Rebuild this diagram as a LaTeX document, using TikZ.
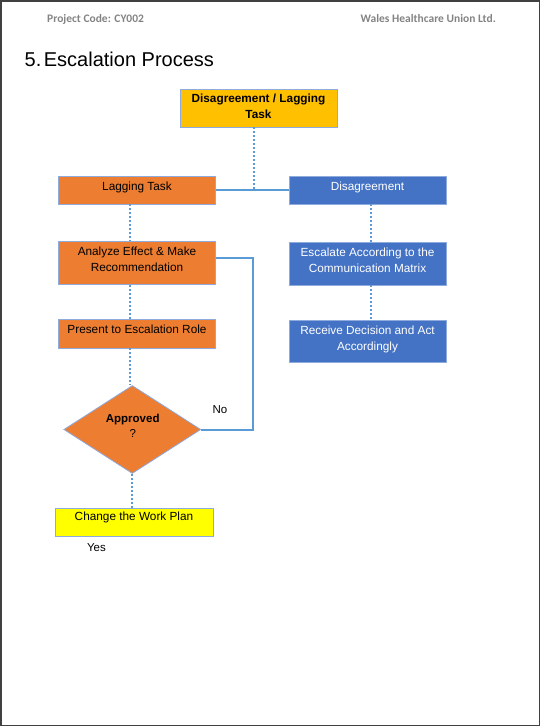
\documentclass[tikz,border=0pt]{standalone}
\usepackage{fontspec}
\setmainfont{Liberation Sans}
\newfontfamily\hdrfont{Carlito}
\usetikzlibrary{shapes.geometric}
\definecolor{orangeF}{HTML}{ED7D31}
\definecolor{blueF}{HTML}{4472C4}
\definecolor{goldF}{HTML}{FFC000}
\definecolor{yellowF}{HTML}{FFFF00}
\definecolor{lineC}{HTML}{5B9BD5}
\definecolor{edgeC}{HTML}{8FAADC}
\definecolor{hdrC}{HTML}{838383}
\definecolor{frameC}{HTML}{404040}
\newcommand{\liftt}[2][2.5pt]{\raisebox{#1}[\height][\depth]{\begin{tabular}{@{}c@{}}#2\end{tabular}}}
\begin{document}
\begin{tikzpicture}[x=1pt,y=-1pt,
  box/.style={draw=edgeC, line width=0.8pt, minimum width=157pt, inner sep=0pt,
    align=center, font=\fontsize{11.8}{16}\selectfont},
  orangebox/.style={box, fill=orangeF, text=black},
  bluebox/.style={box, fill=blueF, text=white},
  dotline/.style={draw=lineC, line width=2pt, dash pattern=on 2pt off 2pt},
  solidline/.style={draw=lineC, line width=2pt},
  hdr/.style={font=\hdrfont\bfseries\fontsize{11.5}{14}\selectfont, text=hdrC, inner sep=0pt},
  plain/.style={font=\fontsize{11.5}{14}\selectfont, inner sep=0pt}]
\useasboundingbox (0,0) rectangle (540,726);
\draw[frameC, line width=1.5pt] (0.75,0.75) rectangle (539.25,725.25);

% header
\node[hdr, anchor=west] (pc) at (47,19) {Project Code: CY002};
\node[hdr, anchor=east] (wh) at (496,19) {Wales Healthcare Union Ltd.};
\node[font=\fontsize{20}{24}\selectfont, anchor=west, inner sep=0pt] (title) at (24.5,59) {5.\kern2.5pt Escalation Process};

% boxes
\node[box, fill=goldF, minimum height=38pt, font=\bfseries\fontsize{11.8}{16}\selectfont] (top) at (258.5,108) {\liftt[0.5pt]{Disagreement / Lagging\\Task}};
\node[orangebox, minimum height=28pt] (lag) at (137,190) {\liftt[3pt]{Lagging Task}};
\node[bluebox, minimum height=28pt] (dis) at (367.5,190) {\liftt[2.5pt]{Disagreement}};
\node[orangebox, minimum height=43pt] (ana) at (137,263) {\liftt[2.5pt]{Analyze Effect \& Make\\Recommendation}};
\node[orangebox, minimum height=29pt] (pres) at (137,333.5) {\liftt[2.8pt]{Present to Escalation Role}};
\node[draw=edgeC, line width=0.8pt, fill=orangeF, diamond, aspect=1.557, minimum width=137pt, minimum height=88pt, inner sep=0pt] (dia) at (132.3,429.5) {};
\node[align=center, inner sep=0pt, font=\fontsize{11.5}{15}\selectfont] (diatext) at (132.7,425.5) {\textbf{Approved}\\?};
\node[box, fill=yellowF, minimum width=158pt, minimum height=28pt] (chg) at (134,522) {\liftt[5pt]{Change the Work Plan}};
\node[bluebox, minimum height=43pt] (esc) at (367.5,263.5) {\liftt[2.2pt]{Escalate According to the\\Communication Matrix}};
\node[bluebox, minimum height=42pt] (rec) at (367.5,341) {\liftt[2.2pt]{Receive Decision and Act\\Accordingly}};

\node[plain] (no) at (220,410) {No};
\node[plain] (yes) at (96.5,548) {Yes};

% connectors
\coordinate (J) at (254,190);
\draw[dotline] (J |- top.south) -- (J);
\draw[solidline] (lag.east) -- (dis.west);

\coordinate (c1) at (130,0);
\draw[dotline] (c1 |- lag.south) -- (c1 |- ana.north);
\draw[dotline] (c1 |- ana.south) -- (c1 |- pres.north);
\draw[dotline] (c1 |- pres.south) -- (c1 |- dia.north);
\draw[dotline] (dia.south) -- (dia.south |- chg.north);

\coordinate (c2) at (370.5,0);
\draw[dotline] (c2 |- dis.south) -- (c2 |- esc.north);
\draw[dotline] (c2 |- esc.south) -- (c2 |- rec.north);

\coordinate (s1) at (ana.east |- 0,258.3);
\coordinate (s2) at (252.7,258.3);
\draw[solidline] (s1) -- (s2) -- (s2 |- dia.east) -- (dia.east);
\end{tikzpicture}
\end{document}
